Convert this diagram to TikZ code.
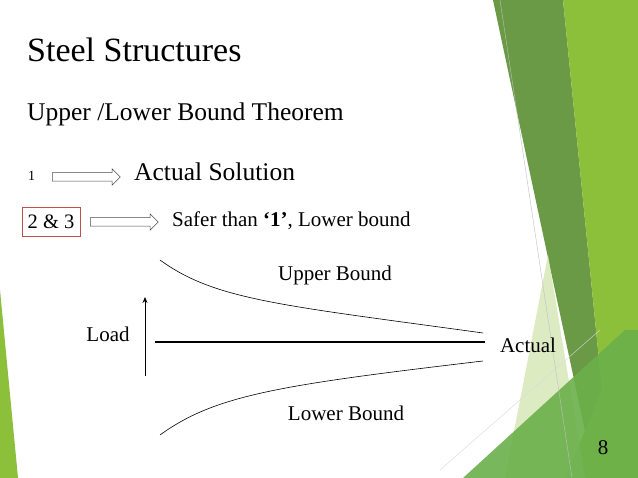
\documentclass[tikz,border=0pt]{standalone}
\usepackage{fontspec}
\setmainfont{Liberation Serif}
\usetikzlibrary{shapes.arrows,arrows.meta}
\definecolor{gdark}{RGB}{106,154,69}
\definecolor{gbright}{RGB}{141,192,58}
\definecolor{gpale}{RGB}{213,230,181}
\definecolor{gmid}{RGB}{106,176,74}
\definecolor{boxred}{RGB}{192,80,77}
\begin{document}
\begin{tikzpicture}[x=1pt,y=-1pt,
  blockarr/.style={single arrow,draw=black!70,line width=0.5pt,minimum height=68pt,inner xsep=0pt,inner ysep=4pt,single arrow head extend=4pt,anchor=west,text width=0pt,text height=0pt,text depth=0pt},
  lbl/.style={font=\fontsize{21}{24}\selectfont,inner sep=0pt}]
\useasboundingbox (0,0) rectangle (638,478);
\fill[white] (0,0) rectangle (638,478);
% decorations
\fill[gdark] (493,0)--(563,0)--(602,390)--(588,445)--cycle;
\fill[gbright] (563,0)--(638,0)--(638,478)--(565,478)--(602,390)--cycle;
\fill[gpale,opacity=0.8] (548,255)--(585,478)--(505,478)--cycle;
\fill[gmid,opacity=0.9] (463,478)--(625,330)--(638,330)--(638,478)--cycle;
\fill[gbright] (0,290)--(18,478)--(0,478)--cycle;
\draw[black!25,line width=0.4pt] (500,0)--(572,478);
\draw[black!15,line width=0.4pt] (440,470)--(600,330);
% texts
\node[anchor=west,inner sep=0pt,font=\fontsize{34}{38}\selectfont] (title) at (27,50) {Steel Structures};
\node[anchor=west,inner sep=0pt,font=\fontsize{25.5}{29}\selectfont] (sub) at (27,114) {Upper /Lower Bound Theorem};
\node[anchor=west,inner sep=0pt,font=\fontsize{14}{16}\selectfont] (one) at (28,176) {1};
\node[blockarr] (a1) at (52,177) {};
\node[anchor=west,inner sep=0pt,font=\fontsize{25.5}{29}\selectfont] (act) at (134,172) {Actual Solution};
\node[draw=boxred,line width=0.8pt,minimum width=58pt,minimum height=29pt,inner sep=0pt,font=\fontsize{20.5}{23}\selectfont] (b23) at (51,222) {2 \& 3};
\node[blockarr] (a2) at (90,222) {};
\node[lbl,anchor=west] (safer) at (172,221) {Safer than \textbf{‘1’}, Lower bound};
% diagram
\coordinate (ut) at (160,260); \coordinate (ue) at (483,333);
\coordinate (lt) at (160,435); \coordinate (le) at (483,361);
\coordinate (ms) at (155,342); \coordinate (me) at (485,342);
\coordinate (vb) at (145,376); \coordinate (vt) at (145,297);
\draw[line width=0.6pt] (ut) .. controls (215,300) and (280,305) .. (ue);
\draw[line width=0.6pt] (lt) .. controls (215,395) and (280,385) .. (le);
\draw[line width=1.2pt] (ms) -- (me);
\draw[line width=0.8pt,-{Stealth[length=6pt,width=5pt]}] (vb) -- (vt);
\node[lbl] (ub) at (335,275) {Upper Bound};
\node[lbl] (lb) at (346,413) {Lower Bound};
\node[lbl] (load) at (108,334) {Load};
\node[lbl] (actual) at (528,345) {Actual};
\node[lbl] (pg) at (603,448) {8};
\end{tikzpicture}
\end{document}
